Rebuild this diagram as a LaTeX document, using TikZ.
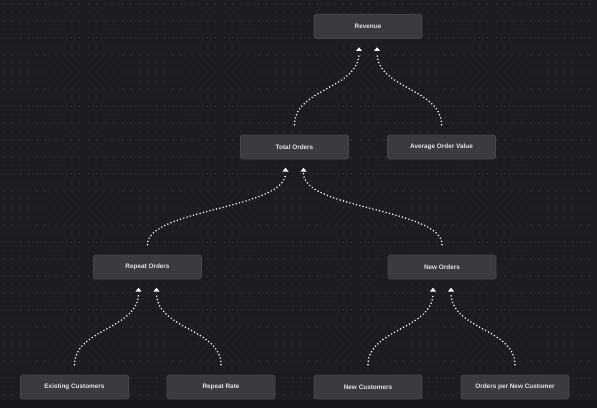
\documentclass[tikz,border=0pt]{standalone}
\usepackage{fontspec}
\setmainfont{Liberation Sans}
\usetikzlibrary{arrows.meta,calc}
\definecolor{bgc}{HTML}{1C1C22}
\definecolor{bandc}{HTML}{16161B}
\definecolor{gridc}{HTML}{30303A}
\definecolor{nodec}{HTML}{3A3A41}
\definecolor{nodeb}{HTML}{46464E}
\definecolor{txtc}{HTML}{E4E4EA}
\tikzset{
  metric/.style={draw=nodeb, line width=0.6pt, fill=nodec, rounded corners=1.5pt,
    minimum width=108pt, minimum height=24pt, inner sep=0pt,
    text=txtc, font=\fontsize{6.4}{7.5}\selectfont\bfseries},
  link/.style={draw=white, line width=1.7pt, line cap=round,
    dash pattern=on 0pt off 3.4pt},
  tipmark/.style={fill=white, draw=none},
}
\newcommand{\arrowtip}[1]{\fill[tipmark] ($#1+(0,0.5)$) -- ($#1+(-3,-3.2)$) -- ($#1+(3,-3.2)$) -- cycle;}
\begin{document}
\begin{tikzpicture}[x=1pt,y=1pt]
\useasboundingbox (0,0) rectangle (597,408);
\fill[bgc] (0,0) rectangle (597,408);
\fill[bandc] (0,0) rectangle (597,8);
% grid dots
\foreach \r in {0,...,46} {
  \draw[gridc, line width=1.3pt, dash pattern=on 1.3pt off 7.2pt]
    (2.5,{404-8.5*\r}) -- (597,{404-8.5*\r});
}
% nodes
\node[metric] (rev) at (368,381.5) {Revenue};
\node[metric] (to) at (294.5,261) {Total Orders};
\node[metric] (aov) at (441.5,261) {Average Order Value};
\node[metric] (ro) at (147.5,141) {Repeat Orders};
\node[metric] (no) at (442,141) {New Orders};
\node[metric] (ec) at (74.5,21) {Existing Customers};
\node[metric] (rr) at (221,21) {Repeat Rate};
\node[metric] (nc) at (368,21) {New Customers};
\node[metric] (opnc) at (515,21) {Orders per New Customer};
% connectors
\foreach \c/\p/\s in {to/rev/-9, aov/rev/9, ro/to/-9, no/to/9, ec/ro/-9, rr/ro/9, nc/no/-9, opnc/no/9} {
  \coordinate (s) at ($(\c.north)+(0,10)$);
  \coordinate (e) at ($(\p.south)+(\s,-14)$);
  \path let \p1=(s), \p2=(e) in
    coordinate (m) at (0,{(\y1+\y2)/2});
  \draw[link] (s) .. controls (s|-m) and (e|-m) .. (e);
  \arrowtip{(\p.south)+(\s,-9)}
}
\end{tikzpicture}
\end{document}
